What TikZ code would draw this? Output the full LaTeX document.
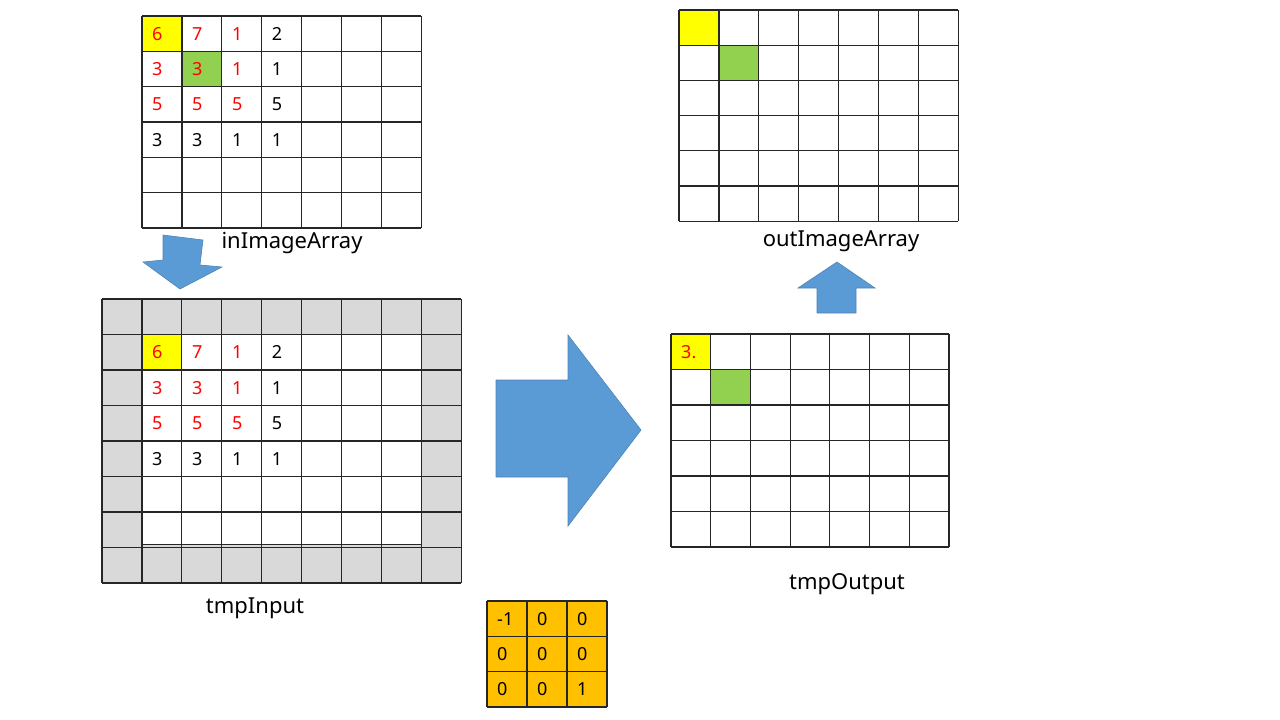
\documentclass[tikz,border=0pt]{standalone}
\usepackage{fontspec}
\setmainfont{Noto Sans}

\definecolor{cellyellow}{HTML}{FFFF00}
\definecolor{cellgreen}{HTML}{92D050}
\definecolor{padgray}{HTML}{D9D9D9}
\definecolor{kernelorange}{HTML}{FFC000}
\definecolor{arrowblue}{HTML}{5B9BD5}

\tikzset{
  gridline/.style={line width=1.2pt, draw=black!85},
  num/.style={anchor=west, inner sep=0pt, font=\fontsize{18}{20}\selectfont},
  caption/.style={font=\fontsize{22}{25}\selectfont},
  blockarrow/.style={fill=arrowblue, draw=arrowblue!85!black, line width=0.6pt},
}

\begin{document}
\begin{tikzpicture}[x=1pt, y=-1pt]
                \path [use as bounding box] (0,0) rectangle (1280,720);
%
                % tmpInput: padded border first, then the inner area
                \fill [padgray] (102,299) rectangle (461,583);
                \fill [white] (142,334.5) rectangle (421,544.5);
                \fill [cellyellow] (142,334.5) rectangle (182,370);
                \foreach \i in {0,...,9}
                    \draw [gridline] ({102+39.9*\i},299) -- ({102+39.9*\i},583);
                \foreach \j in {0,...,8}
                    \draw [gridline] (102,{299+35.5*\j}) -- (461,{299+35.5*\j});
                \draw [gridline] (142,544.5) -- (421,544.5);
                \node [caption] (tmpInput) at (255,608) {tmpInput};
%
                % inImageArray
                \fill [cellyellow] (142,16) rectangle (182,51.3);
                \fill [cellgreen] (182,51.3) rectangle (222,86.7);
                \foreach \i in {0,...,7}
                    \draw [gridline] ({142+39.9*\i},16) -- ({142+39.9*\i},228);
                \foreach \j in {0,...,6}
                    \draw [gridline] (142,{16+35.33*\j}) -- (421,{16+35.33*\j});
                \node [caption] (inImageArray) at (292,243) {inImageArray};
%
                % the same numbers in both input grids
                \foreach \g/\top/\dy in {a/16/35.33, b/334.5/35.5}
                    \foreach \r/\c/\v/\col in {0/0/6/red, 0/1/7/red, 0/2/1/red, 0/3/2/black,
                                               1/0/3/red, 1/1/3/red, 1/2/1/red, 1/3/1/black,
                                               2/0/5/red, 2/1/5/red, 2/2/5/red, 2/3/5/black,
                                               3/0/3/black, 3/1/3/black, 3/2/1/black, 3/3/1/black}
                        \node [num, text=\col] (\g-\r-\c) at ({152+39.9*\c},{\top+\dy*(\r+0.5)}) {\v};
%
                % outImageArray
                \fill [cellyellow] (679,10) rectangle (719,45.2);
                \fill [cellgreen] (719,45.2) rectangle (759,80.4);
                \foreach \i in {0,...,7}
                    \draw [gridline] ({679+39.9*\i},10) -- ({679+39.9*\i},221);
                \foreach \j in {0,...,6}
                    \draw [gridline] (679,{10+35.2*\j}) -- (958,{10+35.2*\j});
                \node [caption] (outImageArray) at (841,241) {outImageArray};
%
                % tmpOutput
                \fill [cellyellow] (671,334) rectangle (711,369.5);
                \fill [cellgreen] (711,369.5) rectangle (750,405);
                \foreach \i in {0,...,7}
                    \draw [gridline] ({671+39.7*\i},334) -- ({671+39.7*\i},547);
                \foreach \j in {0,...,6}
                    \draw [gridline] (671,{334+35.5*\j}) -- (949,{334+35.5*\j});
                \node [num, text=red] (out-0-0) at (681,351.75) {3.};
                \node [caption] (tmpOutput) at (847,584) {tmpOutput};
%
                % kernel
                \fill [kernelorange] (487,601) rectangle (607,707);
                \foreach \i in {0,...,3}
                    \draw [gridline] ({487+40*\i},601) -- ({487+40*\i},707);
                \foreach \j in {0,...,3}
                    \draw [gridline] (487,{601+35.33*\j}) -- (607,{601+35.33*\j});
                \foreach \r/\c/\v in {0/0/-1, 0/1/0, 0/2/0, 1/0/0, 1/1/0, 1/2/0, 2/0/0, 2/1/0, 2/2/1}
                    \node [num] (k-\r-\c) at ({497+40*\c},{601+35.33*(\r+0.5)}) {\v};
%
                % block arrows
                \draw [blockarrow] (163,235) -- (203,240) -- (200,265) -- (222,267)
                      -- (180,289) -- (143,262) -- (163,260) -- cycle;
                \draw [blockarrow] (496,380) -- (568,380) -- (568,335) -- (641,430)
                      -- (568,526) -- (568,477) -- (496,477) -- cycle;
                \draw [blockarrow] (817,313) -- (817,288) -- (798,288) -- (837,262)
                      -- (875,288) -- (856,288) -- (856,313) -- cycle;
\end{tikzpicture}
\end{document}
